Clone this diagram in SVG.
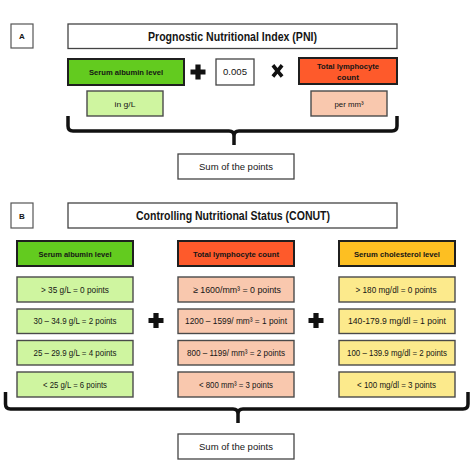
<svg xmlns="http://www.w3.org/2000/svg" width="474" height="474" viewBox="0 0 474 474">
<style>
text{font-family:"Liberation Sans",Arial,sans-serif;fill:#151515;text-anchor:middle}
.t{font-size:12px;font-weight:bold}
.h{font-size:8px;font-weight:bold}
.r{font-size:8.8px}
.plain{fill:#fff;stroke:#444;stroke-width:1.3}
.lbl{fill:#fff;stroke:#555;stroke-width:1.2}
.gh{fill:#63cb1f;stroke:#1f1f1f;stroke-width:2}
.rh{fill:#fe5a2b;stroke:#1f1f1f;stroke-width:2}
.oh{fill:#fdbf22;stroke:#1f1f1f;stroke-width:2}
.gl{fill:#cff5a0;stroke:#4a4a4a;stroke-width:1.4}
.rl{fill:#f9c8ae;stroke:#4a4a4a;stroke-width:1.4}
.yl{fill:#fcea8c;stroke:#4a4a4a;stroke-width:1.4}
.brace{fill:none;stroke:#111;stroke-width:3.5}
.op{fill:#111}
</style>
<defs>
<path id="plus" d="M-2.6,-7.5 H2.6 V-2.6 H7.5 V2.6 H2.6 V7.5 H-2.6 V2.6 H-7.5 V-2.6 H-2.6 Z"/>
</defs>

<!-- Panel A -->
<g id="labelA"><rect class="lbl" x="11" y="24" width="22" height="24"/><text x="22" y="39" style="font-size:8px;font-weight:bold">A</text></g>
<g id="titlePNI"><rect class="plain" x="68" y="24" width="329" height="24.5"/><text class="t" x="232.5" y="40.5" textLength="169" lengthAdjust="spacingAndGlyphs">Prognostic Nutritional Index (PNI)</text></g>
<g id="pniAlbumin"><rect class="gh" x="68" y="59" width="116" height="26"/><text class="h" x="126" y="74.8" textLength="74" lengthAdjust="spacingAndGlyphs">Serum albumin level</text></g>
<g id="pniConst"><rect class="plain" x="216" y="59" width="38" height="26"/><text class="r" x="235" y="75" textLength="24" lengthAdjust="spacingAndGlyphs">0.005</text></g>
<g id="pniLymph"><rect class="rh" x="299" y="58" width="98" height="26"/><text class="h" x="348" y="68.8" textLength="62" lengthAdjust="spacingAndGlyphs">Total lymphocyte</text><text class="h" x="348" y="79.8">count</text></g>
<g id="pniUnitAlb"><rect class="gl" x="87" y="91" width="76" height="25"/><text class="r" x="125" y="106.5" style="font-size:7.5px" textLength="21" lengthAdjust="spacingAndGlyphs">in g/L</text></g>
<g id="pniUnitLym"><rect class="rl" x="311" y="91" width="76" height="25"/><text class="r" x="349" y="106.5" style="font-size:7.5px" textLength="29" lengthAdjust="spacingAndGlyphs">per mm³</text></g>
<g id="pniOps">
<use href="#plus" class="op" x="198" y="72"/>
<path class="op" d="M271.5,66.5 l2.8,-2.4 l3.2,4 l3.2,-4 l2.8,2.4 l-3.6,4.4 l3.6,4.4 l-2.8,2.4 l-3.2,-4 l-3.2,4 l-2.8,-2.4 l3.6,-4.4 Z"/>
</g>
<g id="pniSum"><rect class="plain" x="178" y="154" width="116" height="25"/><text class="r" x="236" y="170" textLength="74" lengthAdjust="spacingAndGlyphs">Sum of the points</text></g>

<!-- Panel B -->
<g id="labelB"><rect class="lbl" x="11" y="203" width="22" height="25"/><text x="22" y="219" style="font-size:8px;font-weight:bold">B</text></g>
<g id="titleCONUT"><rect class="plain" x="68" y="203" width="329" height="25"/><text class="t" x="233" y="220" textLength="194" lengthAdjust="spacingAndGlyphs">Controlling Nutritional Status (CONUT)</text></g>

<g id="hAlb"><rect class="gh" x="17" y="241" width="116" height="25"/><text class="h" x="75" y="256.6" textLength="73" lengthAdjust="spacingAndGlyphs">Serum albumin level</text></g>
<g id="hLym"><rect class="rh" x="178" y="241" width="116" height="25"/><text class="h" x="236" y="256.6" textLength="86" lengthAdjust="spacingAndGlyphs">Total lymphocyte count</text></g>
<g id="hChol"><rect class="oh" x="339" y="241" width="116" height="25"/><text class="h" x="397" y="256.6" textLength="86" lengthAdjust="spacingAndGlyphs">Serum cholesterol level</text></g>

<g id="alb1"><rect class="gl" x="17" y="277" width="116" height="25"/><text class="r" x="75" y="292.7" textLength="68" lengthAdjust="spacingAndGlyphs">&gt; 35 g/L = 0 points</text></g>
<g id="alb2"><rect class="gl" x="17" y="309" width="116" height="24.5"/><text class="r" x="75" y="324.3" textLength="83" lengthAdjust="spacingAndGlyphs">30 – 34.9 g/L = 2 points</text></g>
<g id="alb3"><rect class="gl" x="17" y="340.5" width="116" height="24.5"/><text class="r" x="75" y="355.8" textLength="83" lengthAdjust="spacingAndGlyphs">25 – 29.9 g/L = 4 points</text></g>
<g id="alb4"><rect class="gl" x="17" y="372" width="116" height="25"/><text class="r" x="75" y="387.6" textLength="64" lengthAdjust="spacingAndGlyphs">&lt; 25 g/L = 6 points</text></g>

<g id="lym1"><rect class="rl" x="178" y="277" width="116" height="25"/><text class="r" x="237" y="293" style="font-size:9.3px" textLength="88" lengthAdjust="spacingAndGlyphs">≥ 1600/mm³ = 0 points</text></g>
<g id="lym2"><rect class="rl" x="178" y="309" width="116" height="24.5"/><text class="r" x="236" y="324.3" textLength="102" lengthAdjust="spacingAndGlyphs">1200 – 1599/ mm³ = 1 point</text></g>
<g id="lym3"><rect class="rl" x="178" y="340.5" width="116" height="24.5"/><text class="r" x="236" y="355.8" textLength="98" lengthAdjust="spacingAndGlyphs">800 – 1199/ mm³ = 2 points</text></g>
<g id="lym4"><rect class="rl" x="178" y="372" width="116" height="25"/><text class="r" x="236" y="387.6" textLength="74" lengthAdjust="spacingAndGlyphs">&lt; 800 mm³ = 3 points</text></g>

<g id="chol1"><rect class="yl" x="339" y="277" width="116" height="25"/><text class="r" x="396" y="292.7" textLength="81" lengthAdjust="spacingAndGlyphs">&gt; 180 mg/dl = 0 points</text></g>
<g id="chol2"><rect class="yl" x="339" y="309" width="116" height="24.5"/><text class="r" x="397" y="324.3" textLength="98" lengthAdjust="spacingAndGlyphs">140-179.9 mg/dl = 1 point</text></g>
<g id="chol3"><rect class="yl" x="339" y="340.5" width="116" height="24.5"/><text class="r" x="397" y="355.8" textLength="100" lengthAdjust="spacingAndGlyphs">100 – 139.9 mg/dl = 2 points</text></g>
<g id="chol4"><rect class="yl" x="339" y="372" width="116" height="25"/><text class="r" x="396.5" y="387.6" textLength="79" lengthAdjust="spacingAndGlyphs">&lt; 100 mg/dl = 3 points</text></g>

<g id="conutOps">
<use href="#plus" class="op" x="156" y="320.5"/>
<use href="#plus" class="op" x="316" y="320.5"/>
</g>
<g id="conutSum"><rect class="plain" x="178" y="434" width="116" height="25"/><text class="r" x="236" y="450" textLength="74" lengthAdjust="spacingAndGlyphs">Sum of the points</text></g>

<!-- Connectors (braces) -->
<g id="connectors">
<path class="brace" d="M68,116 V126 Q68,131 73,131 H229 Q234,131 234,136 V145 M234,136 Q234,131 239,131 H392 Q397,131 397,126 V116"/>
<path class="brace" d="M5.5,392 V404 Q5.5,409 10.5,409 H233 Q238,409 238,414 V423 M238,414 Q238,409 243,409 H463 Q468,409 468,404 V392"/>
</g>
</svg>
